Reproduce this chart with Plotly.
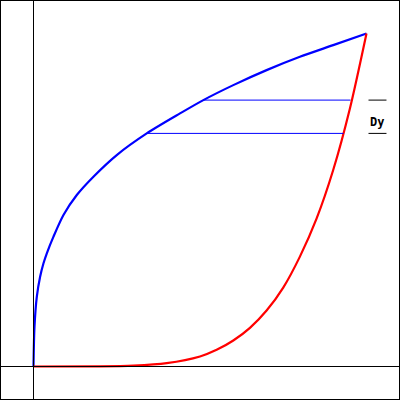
import plotly.graph_objects as go

# upper curve (blue)
blue_x = [0, 0.003, 0.01, 0.02, 0.03, 0.04, 0.06, 0.09, 0.13, 0.18, 0.25, 0.34, 0.44, 0.51, 0.60, 0.70, 0.80, 0.90, 1.0]
blue_y = [0, 0.12, 0.21, 0.27, 0.31, 0.34, 0.39, 0.455, 0.515, 0.57, 0.635, 0.70, 0.76, 0.80, 0.845, 0.89, 0.93, 0.965, 1.0]

# lower curve (red)
red_x = [0, 0.2, 0.3, 0.4, 0.5, 0.55, 0.6, 0.65, 0.7, 0.75, 0.8, 0.85, 0.9, 0.95, 1.0]
red_y = [0, 0.0003, 0.0025, 0.01, 0.03, 0.05, 0.078, 0.116, 0.168, 0.237, 0.33, 0.444, 0.59, 0.774, 1.0]

# the two horizontal levels and where they meet each curve
levels = [0.7, 0.8]
left_ends = [0.343, 0.511]
right_ends = [0.931, 0.952]
label = "Dy"

fig = go.Figure()

fig.add_trace(go.Scatter(x=blue_x, y=blue_y, mode="lines",
                         line=dict(color="#0000ff", width=2.2, shape="spline", smoothing=0.8),
                         hoverinfo="skip"))
fig.add_trace(go.Scatter(x=red_x, y=red_y, mode="lines",
                         line=dict(color="#ff0000", width=2.2, shape="spline", smoothing=0.8),
                         hoverinfo="skip"))

for lv, a, b in zip(levels, left_ends, right_ends):
    fig.add_trace(go.Scatter(x=[a, b], y=[lv, lv], mode="lines",
                             line=dict(color="#0000ff", width=1), hoverinfo="skip"))
    # short black mark on the right
    fig.add_shape(type="line", x0=1.006, x1=1.06, y0=lv, y1=lv,
                  line=dict(color="black", width=1))

fig.add_annotation(x=1.033, y=(levels[0] + levels[1]) / 2 - 0.016, text="<b>" + label + "</b>",
                   showarrow=False, font=dict(family="DejaVu Sans Mono", size=12, color="black"))

# axes through the origin
fig.add_shape(type="line", x0=0, x1=0, y0=0, y1=1, yref="paper", xref="x",
              line=dict(color="black", width=1))
fig.add_shape(type="line", x0=0, x1=1, y0=0, y1=0, xref="paper", yref="y",
              line=dict(color="black", width=1))
# frame
fig.add_shape(type="rect", x0=0, x1=1, y0=0, y1=1, xref="paper", yref="paper",
              line=dict(color="black", width=2))

fig.update_xaxes(range=[-33.5 / 333, 366.5 / 333], visible=False, fixedrange=True)
fig.update_yaxes(range=[-33.5 / 333, 366.5 / 333], visible=False, fixedrange=True)
fig.update_layout(width=400, height=400, margin=dict(l=0, r=0, t=0, b=0),
                  showlegend=False, plot_bgcolor="white", paper_bgcolor="white")

fig.write_html("out.html", config={"displayModeBar": False},
               post_script="document.body.style.margin='0';document.body.style.overflow='hidden';")
